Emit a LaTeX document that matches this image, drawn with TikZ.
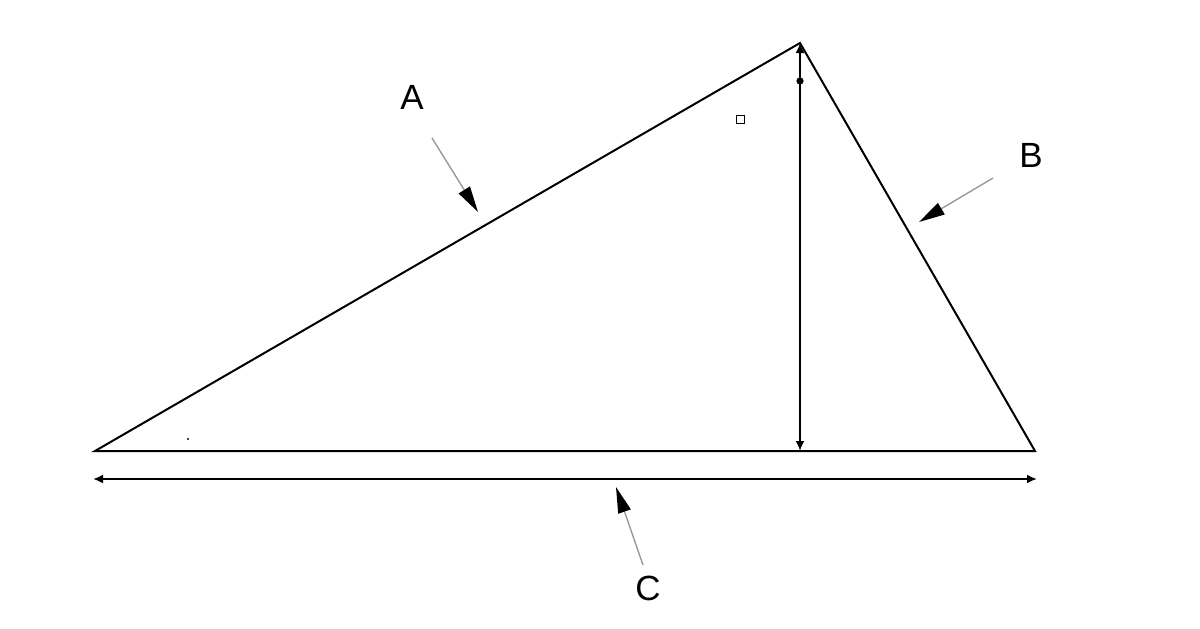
\documentclass[tikz,border=0pt]{standalone}
\usepackage{fontspec}
\setmainfont{Liberation Sans}
\usetikzlibrary{arrows.meta}
\tikzset{
  side/.style={line width=1pt},
  measure/.style={line width=1.1pt, {Latex[length=5pt,width=4.5pt]}-{Latex[length=5pt,width=4.5pt]}},
  pointer/.style={draw=black!40, line width=0.7pt, -{Stealth[length=13pt,width=6.5pt,black,inset=0pt]}},
  letter/.style={inner sep=0pt, font=\fontsize{17.5}{20}\selectfont}
}
\begin{document}
\begin{tikzpicture}[x=0.5pt, y=-0.5pt]
      \useasboundingbox (0,0) rectangle (1200,628);
      % vertices
      \coordinate (L) at (95,451);
      \coordinate (T) at (800,43);
      \coordinate (R) at (1035,451);
      \coordinate (F) at (800,451);
      \draw[side, line join=miter] (L) -- (T) -- (R) -- cycle;
      % height
      \draw[measure] (T) -- (F);
      \fill (800,81) circle (1.8pt);
      \draw[line width=0.6pt] (736.5,115.5) rectangle (744.5,123.5);
      \fill (188,439) circle (0.6pt);
      % base length
      \coordinate (c0) at (93,479);
      \coordinate (c1) at (1037,479);
      \draw[measure] (c0) -- (c1);
      % labels
      \node[letter] (A) at (412,97) {A};
      \node[letter] (B) at (1031,155) {B};
      \node[letter] (C) at (648,588) {C};
      \coordinate (a0) at (432,138);
      \coordinate (a1) at (478,212);
      \coordinate (b0) at (993,178);
      \coordinate (b1) at (919,222);
      \coordinate (k0) at (643,565);
      \coordinate (k1) at (616,487);
      \draw[pointer] (a0) -- (a1);
      \draw[pointer] (b0) -- (b1);
      \draw[pointer] (k0) -- (k1);
   \end{tikzpicture}
\end{document}
